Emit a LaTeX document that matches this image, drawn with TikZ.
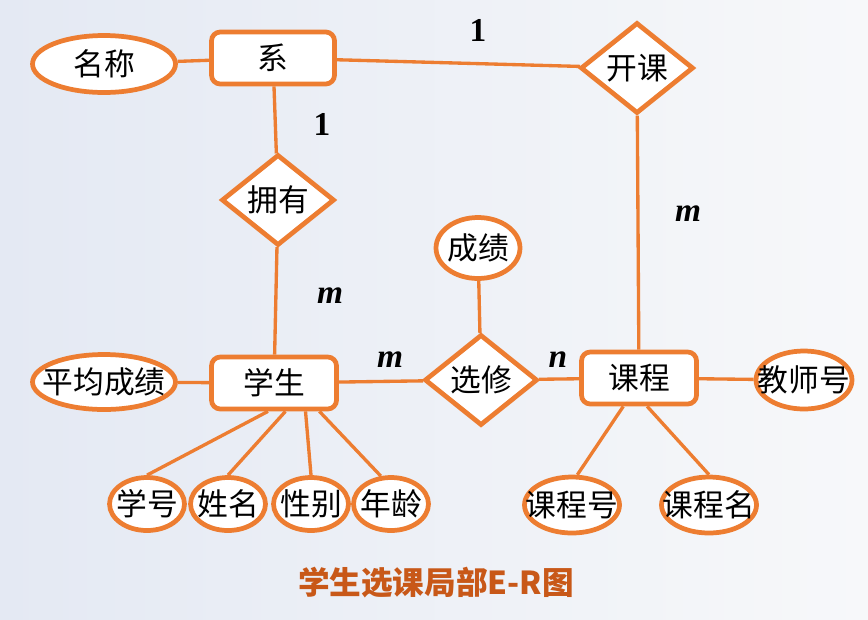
\documentclass[tikz,border=0pt]{standalone}
\usepackage{fontspec}
\setmainfont{Liberation Serif}
\newfontfamily\cjk{Noto Sans CJK SC}
\usetikzlibrary{shapes.geometric}
\definecolor{erorange}{RGB}{237,125,49}
\definecolor{titleorange}{RGB}{200,88,24}
\definecolor{bgleft}{RGB}{228,233,243}
\definecolor{bgright}{RGB}{247,248,250}
\begin{document}
\begin{tikzpicture}[x=0.02cm,y=-0.02cm,
    entity/.style={draw=erorange,line width=2.7pt,fill=white,rounded corners=5pt,
        inner sep=0pt,minimum height=1.04cm,font=\cjk\fontsize{17.5}{20}\selectfont},
    attr/.style={draw=erorange,line width=2.7pt,fill=white,ellipse,
        inner xsep=-8pt,inner ysep=0pt,font=\cjk\fontsize{17.5}{20}\selectfont},
    rel/.style={draw=erorange,line width=2.7pt,fill=white,diamond,inner sep=0pt,
        minimum width=2.26cm,minimum height=1.82cm,font=\cjk\fontsize{17.5}{20}\selectfont},
    link/.style={draw=erorange,line width=1.9pt},
    card/.style={font=\bfseries\itshape\fontsize{19}{20}\selectfont}]
\useasboundingbox (0,0) rectangle (868,619);
\fill[left color=bgleft,right color=bgright] (0,0) rectangle (868,619);

% entities
\node[entity,minimum width=2.46cm] (xi) at (273,58) {系};
\node[entity,minimum width=2.5cm] (xs) at (274,383) {学生};
\node[entity,minimum width=2.3cm] (kc) at (639,378) {课程};

% relationships
\node[rel] (yy) at (278,200) {拥有};
\node[rel] (kk) at (637,68) {开课};
\node[rel] (xx) at (481,380) {选修};

% attributes
\node[attr,minimum width=2.86cm,minimum height=1.14cm] (mc) at (104,64) {名称};
\node[attr,minimum width=2.86cm,minimum height=1.1cm] (pj) at (104,382) {平均成绩};
\node[attr,minimum width=1.68cm,minimum height=1.22cm] (cj) at (478,248) {成绩};
\node[attr,minimum width=1.92cm,minimum height=1.16cm] (js) at (804,380) {教师号};
\node[attr,minimum width=1.9cm,minimum height=1.12cm] (kh) at (572,505) {课程号};
\node[attr,minimum width=1.9cm,minimum height=1.12cm] (km) at (709,505) {课程名};
\node[attr,minimum width=1.5cm,minimum height=1.06cm] (xh) at (147,504) {学号};
\node[attr,minimum width=1.5cm,minimum height=1.06cm] (xm) at (228,504) {姓名};
\node[attr,minimum width=1.5cm,minimum height=1.06cm] (xb) at (311,504) {性别};
\node[attr,minimum width=1.5cm,minimum height=1.06cm] (nl) at (391,504) {年龄};

% connectors
\draw[link] (mc) -- (xi);
\draw[link] (xi) -- (kk);
\draw[link] (xi) -- (yy);
\draw[link] (yy) -- (xs);
\draw[link] (kk) -- (kc);
\draw[link] (pj) -- (xs);
\draw[link] (xs) -- (xx);
\draw[link] (xx) -- (kc);
\draw[link] (cj) -- (xx);
\draw[link] (kc) -- (js);
\draw[link] (xs.-102) -- (xh.north);
\draw[link] (xs.-68) -- (xm.north);
\draw[link] (xs.-42) -- (xb.north);
\draw[link] (xs.-32) -- (nl.110);
\draw[link] (kc.-119) -- (kh.80);
\draw[link] (kc.-74) -- (km.north);

% cardinalities
\node[card] (c1) at (478,30) {\upshape 1};
\node[card] (c2) at (322,124) {\upshape 1};
\node[card] (c3) at (330,296) {m};
\node[card] (c4) at (688,214) {m};
\node[card] (c5) at (390,360) {m};
\node[card] (c6) at (558,360) {n};

\node[text=titleorange,font=\cjk\bfseries\fontsize{18}{20}\selectfont] (title) at (436,583) {学生选课局部E-R图};
\end{tikzpicture}
\end{document}
